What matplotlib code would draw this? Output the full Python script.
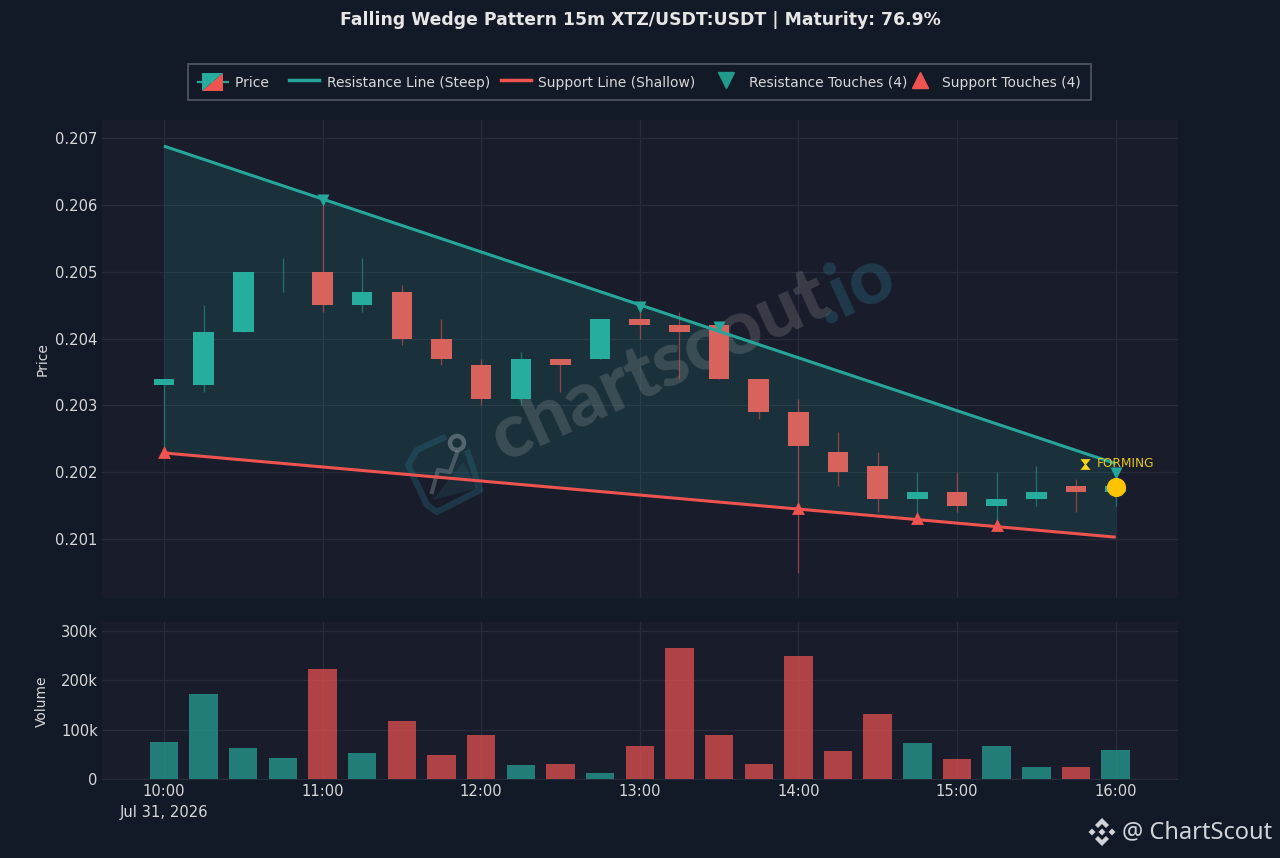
import matplotlib
matplotlib.use('Agg')
import matplotlib.pyplot as plt
from matplotlib.legend_handler import HandlerBase
from matplotlib.lines import Line2D
from matplotlib.patches import Circle, Polygon, Rectangle
from matplotlib.transforms import IdentityTransform

W, H = 1280, 858

opens = [0.2033, 0.2033, 0.2041, 0.2050, 0.2050, 0.2045, 0.2047, 0.2040, 0.2036, 0.2031, 0.2037, 0.2037, 0.2043,
         0.2042, 0.2042, 0.2034, 0.2029, 0.2023, 0.2021, 0.2016, 0.2017, 0.2015, 0.2016, 0.2018, 0.2017]
highs = [0.2034, 0.2045, 0.2050, 0.2052, 0.2061, 0.2052, 0.2048, 0.2043, 0.2037, 0.2038, 0.2037, 0.2043, 0.2044,
         0.2044, 0.2042, 0.2034, 0.2031, 0.2026, 0.2023, 0.2020, 0.2020, 0.2020, 0.2021, 0.2019, 0.2020]
lows = [0.2023, 0.2032, 0.2041, 0.2047, 0.2044, 0.2044, 0.2039, 0.2036, 0.2030, 0.2030, 0.2032, 0.2037, 0.2040,
        0.2034, 0.2034, 0.2028, 0.2005, 0.2018, 0.2014, 0.2013, 0.2014, 0.2012, 0.2015, 0.2014, 0.2015]
closes = [0.2034, 0.2041, 0.2050, 0.2050, 0.2045, 0.2047, 0.2040, 0.2037, 0.2031, 0.2037, 0.2036, 0.2043, 0.2042,
          0.2041, 0.2034, 0.2029, 0.2024, 0.2020, 0.2016, 0.2017, 0.2015, 0.2016, 0.2017, 0.2017, 0.2018]
volumes = [75, 172, 63, 42, 222, 52, 118, 48, 90, 28, 30, 13, 67, 266, 90, 31, 250, 56, 132, 72, 41, 66, 24, 24, 58]
vol_up = [1, 1, 1, 1, 0, 1, 0, 0, 0, 1, 0, 1, 0, 0, 0, 0, 0, 0, 0, 1, 0, 1, 1, 0, 1]

tick_pos = [0, 4, 8, 12, 16, 20, 24]
tick_labels = ['10:00\nJul 31, 2026', '11:00', '12:00', '13:00', '14:00', '15:00', '16:00']
price_ticks = [0.201, 0.202, 0.203, 0.204, 0.205, 0.206, 0.207]
vol_ticks = [0, 100, 200, 300]
vol_tick_labels = ['0', '100k', '200k', '300k']

res_x = [0, 24]
res_y = [0.20688, 0.20213]
sup_x = [0, 24]
sup_y = [0.20229, 0.20103]
res_touch_x = [4, 12, 14, 24]
res_touch_y = [0.20608, 0.20448, 0.20418, 0.20199]
sup_touch_x = [0, 16, 19, 21]
sup_touch_y = [0.20231, 0.20147, 0.20131, 0.20121]

BG = '#131a27'
PANEL = '#191d2b'
TEAL = '#26a69a'
RED = '#ef5350'
BODY_UP = '#26ad9e'
BODY_DN = '#d8625c'
TXT = '#d8d8d8'
WM = '#2a6a80'
WM_GREY = '#9aa5b0'


def px_axes(x0, y0, x1, y1):
    return fig.add_axes([x0 / W, 1 - y1 / H, (x1 - x0) / W, (y1 - y0) / H])


def flip(pts):
    # reference pixel coords (y down) to display coords
    return [(x, H - y) for x, y in pts]


class PriceHandler(HandlerBase):
    def create_artists(self, legend, orig, xd, yd, width, height, fontsize, trans):
        cx = width / 2 - xd
        cy = height / 2 - yd
        w = fontsize * 1.5
        h = fontsize * 1.25
        line = Line2D([-xd, width - xd], [cy, cy], color=TEAL, lw=1.6, transform=trans)
        up = Polygon([[cx - w / 2, cy - h / 2], [cx - w / 2, cy + h / 2], [cx + w / 2, cy + h / 2]], color=BODY_UP,
                     lw=0, transform=trans)
        dn = Polygon([[cx - w / 2, cy - h / 2], [cx + w / 2, cy - h / 2], [cx + w / 2, cy + h / 2]], color=RED,
                     lw=0, transform=trans)
        return [line, dn, up]


fig = plt.figure(figsize=(W / 100, H / 100), dpi=100, facecolor=BG)
ax = px_axes(102, 120, 1178, 598)
axv = px_axes(102, 622, 1178, 780)

for a in (ax, axv):
    a.set_facecolor(PANEL)
    a.set_xlim(-1.56, 25.57)
    a.set_xticks(tick_pos)
    a.grid(True, color='#262c3b', lw=0.9)
    a.set_axisbelow(True)
    a.tick_params(colors=TXT, labelsize=10.6, length=0, pad=3)
    for s in a.spines.values():
        s.set_visible(False)

# wedge
xs = list(range(25))
ax.fill_between(res_x, res_y, sup_y, color=TEAL, alpha=0.15, lw=0, zorder=1)
ax.plot(res_x, res_y, color=TEAL, lw=2.2, solid_capstyle='butt', zorder=5)
ax.plot(sup_x, sup_y, color=RED, lw=2.2, solid_capstyle='butt', zorder=5)

# watermark
ident = IdentityTransform()
ax.text(660, H - 366, 'chartscout', transform=ident, color='#b0b0b0', alpha=0.22, fontsize=55, family='Lato',
        weight='black', rotation=24.5, rotation_mode='anchor', ha='center', va='center', zorder=2)
ax.text(853, H - 288, '.io', transform=ident, color=WM, alpha=0.38, fontsize=55, family='Lato', weight='black',
        rotation=24.5, rotation_mode='anchor', ha='center', va='center', zorder=2)
frame = [(443, 438), (417, 450), (408, 465), (427, 505), (437, 512), (480, 490), (468, 453)]
inner = [(432, 492), (438, 470), (450, 472), (457, 453)]
ax.add_patch(Polygon(flip([(433, 500), (463, 462), (478, 488)]), color=WM, alpha=0.2, lw=0, transform=ident, zorder=2))
ax.add_line(Line2D(*zip(*flip(frame)), color=WM, alpha=0.35, lw=4.5, solid_joinstyle='round', transform=ident, zorder=2))
ax.add_line(Line2D(*zip(*flip(inner)), color=WM_GREY, alpha=0.35, lw=3, transform=ident, zorder=2))
ax.add_patch(Circle((457, H - 443), 7, fill=False, ec=WM_GREY, alpha=0.45, lw=3.2, transform=ident, zorder=2))

# candles
for i in xs:
    up = closes[i] >= opens[i]
    ax.vlines(i, lows[i], highs[i], color=TEAL if up else RED, lw=0.9, alpha=0.55, zorder=3)
    bottom = min(opens[i], closes[i])
    ax.bar(i, abs(closes[i] - opens[i]), bottom=bottom, width=0.52, color=BODY_UP if up else BODY_DN, lw=0, zorder=4)

ax.scatter(res_touch_x, res_touch_y, marker='v', s=75, color=TEAL, zorder=6, lw=0)
ax.scatter(sup_touch_x, sup_touch_y, marker='^', s=85, color=RED, zorder=6, lw=0)
ax.scatter([24], [0.20178], s=190, color='#ffc400', zorder=7, lw=0)
ax.scatter([23.23], [0.20212], marker='$\u29D7$', s=60, color='#ffd21f', zorder=7, lw=0)
ax.text(23.53, 0.20213, 'FORMING', color='#e8c820', fontsize=8.7, va='center', ha='left', zorder=8)

ax.set_ylim(0.20012, 0.20727)
ax.set_yticks(price_ticks)
ax.set_yticklabels(['%.3f' % v for v in price_ticks])
ax.set_xticklabels([])
ax.set_ylabel('Price', color=TXT, fontsize=10)
ax.yaxis.set_label_coords(-0.049, 0.5)

vol_cols = [TEAL if u else RED for u in vol_up]
axv.bar(xs, volumes, width=0.72, color=vol_cols, alpha=0.7, lw=0, zorder=3)
axv.set_ylim(-2, 318)
axv.set_yticks(vol_ticks)
axv.set_yticklabels(vol_tick_labels)
axv.set_xticklabels(tick_labels, linespacing=1.45)
axv.set_ylabel('Volume', color=TXT, fontsize=10)
axv.yaxis.set_label_coords(-0.049, 0.5)

fig.text(640 / W, 1 - 20 / H, 'Falling Wedge Pattern 15m XTZ/USDT:USDT | Maturity: 76.9%', color='#e6e6e6',
         fontsize=12.4, weight='bold', ha='center', va='center')

handles = [
    Rectangle((0, 0), 1, 1),
    Line2D([], [], color=TEAL, lw=2.5),
    Line2D([], [], color=RED, lw=2.5),
    Line2D([], [], color='#1f9a8c', marker='v', ms=12, lw=0),
    Line2D([], [], color=RED, marker='^', ms=12, lw=0),
]
# trailing spaces keep the uneven gaps between the legend columns
names = ['Price     ', 'Resistance Line (Steep)   ', 'Support Line (Shallow)    ', 'Resistance Touches (4)',
         'Support Touches (4)']
leg = fig.legend(handles, names, handler_map={Rectangle: PriceHandler()}, ncol=5, loc='center',
                 bbox_to_anchor=(639.5 / W, 1 - 82 / H), fontsize=10, labelcolor=TXT, facecolor=BG, edgecolor='#4a4f5c',
                 framealpha=1, fancybox=False, columnspacing=-0.145, handletextpad=0.55, handlelength=2.15,
                 handleheight=1.4, borderpad=0.7)
leg.get_frame().set_linewidth(1.4)

# chartscout mark bottom right
MARK = '#d0d3d8'
mx, my = 1102, 832
pieces = [
    [(0, -14), (7, -7), (4, -4), (0, -8), (-4, -4), (-7, -7)],
    [(0, 14), (7, 7), (4, 4), (0, 8), (-4, 4), (-7, 7)],
    [(0, -3.5), (3.5, 0), (0, 3.5), (-3.5, 0)],
    [(-13.5, 0), (-10, -3.5), (-6.5, 0), (-10, 3.5)],
    [(13.5, 0), (10, -3.5), (6.5, 0), (10, 3.5)],
]
for p in pieces:
    fig.add_artist(Polygon(flip([(mx + dx, my + dy) for dx, dy in p]), color=MARK, lw=0, transform=ident))
fig.text(1197 / W, 1 - 832 / H, '@ ChartScout', color=MARK, fontsize=17, family='Noto Sans', ha='center',
         va='center')

fig.savefig('out.png', dpi=100, facecolor=BG)
